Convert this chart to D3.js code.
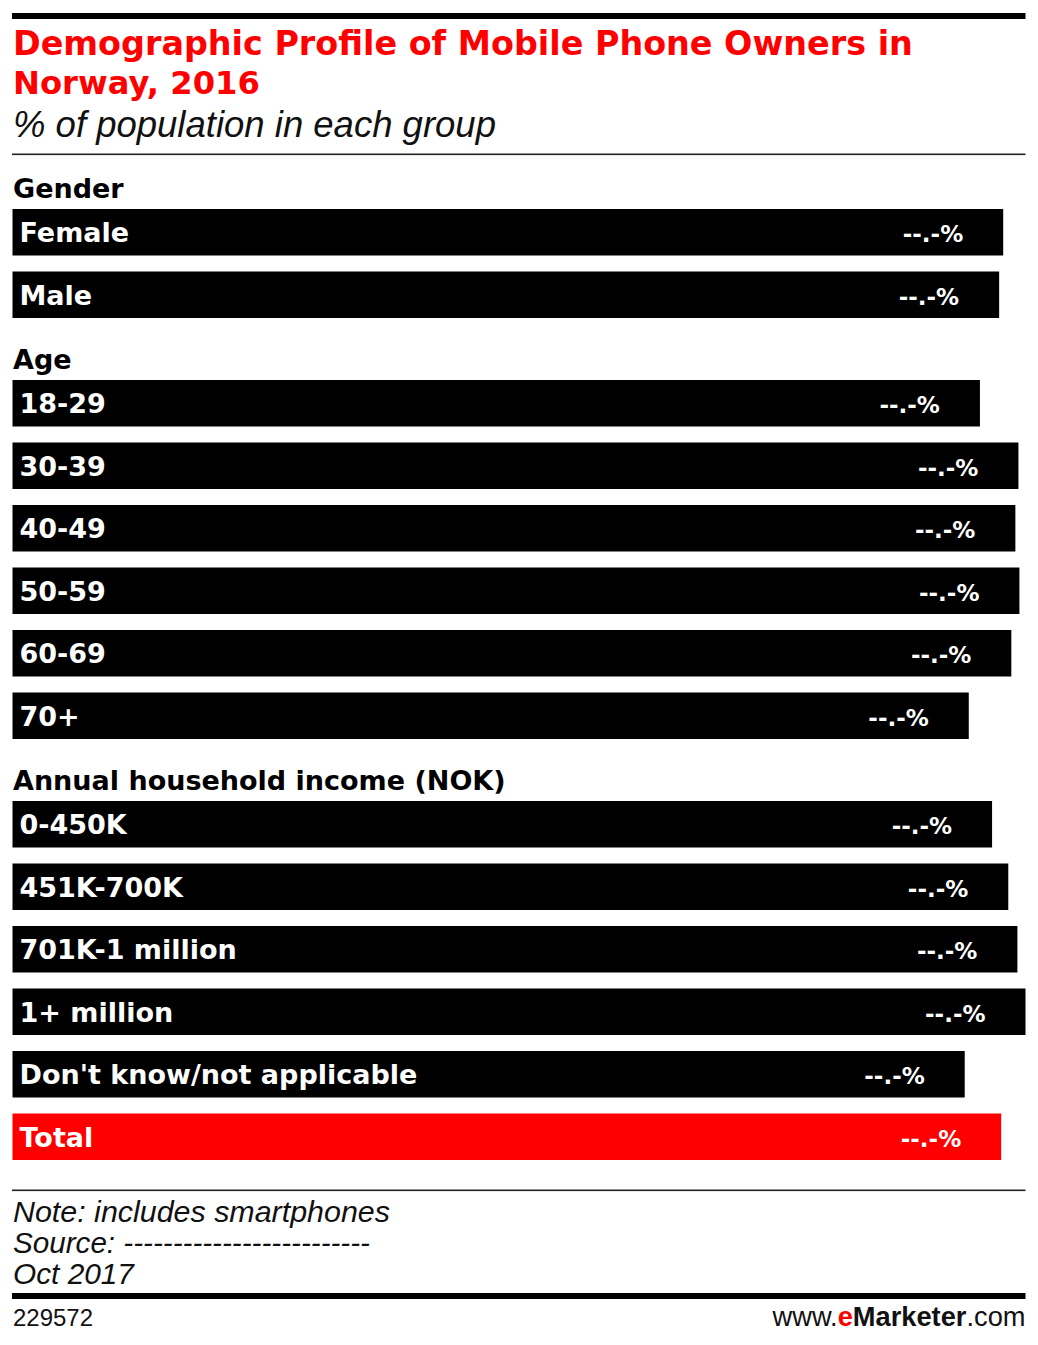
<!DOCTYPE html>
<html>
<head>
<meta charset="utf-8">
<script src="https://cdn.jsdelivr.net/npm/d3@7"></script>
<style>
  body { margin: 0; background: #fff; }
  svg { display: block; }
</style>
</head>
<body>
<div id="chart"></div>
<script>
var groups = ["Gender", "Age", "Annual household income (NOK)", null];
var categories = [
    ["Female", "Male"],
    ["18-29", "30-39", "40-49", "50-59", "60-69", "70+"],
    ["0-450K", "451K-700K", "701K-1 million", "1+ million", "Don't know/not applicable"],
    ["Total"]
];
var values = [
    [97.8, 97.4],
    [95.5, 99.3, 99.0, 99.4, 98.6, 94.4],
    [96.7, 98.3, 99.2, 100.0, 94.0],
    [97.6]
];
var valueLabel = "--.-%";

var title = ["Demographic Profile of Mobile Phone Owners in", "Norway, 2016"];
var subtitle = "% of population in each group";
var notes = ["Note: includes smartphones", "Source: -------------------------", "Oct 2017"];
var chartId = "229572";

// set the dimensions
var W = 1038, H = 1345,
    left = 12.5, right = 1025.5;

var svg = d3.select("#chart")
    .append("svg")
    .attr("width", W)
    .attr("height", H);

// shrink/grow font so the text spans a given width
function fit(sel, target) {
    var node = sel.node();
    var size = parseFloat(sel.attr("font-size"));
    var len = node.getComputedTextLength();
    if (len > 0) sel.attr("font-size", (size * target / len).toFixed(2));
    return sel;
}

var boldFont = "'DejaVu Sans', sans-serif";
var textFont = "'Liberation Sans', Arial, sans-serif";

// top rule
svg.append("rect").attr("x", 12).attr("y", 13).attr("width", right - 12).attr("height", 6).attr("fill", "#000");

// title
fit(svg.append("text").attr("x", 13).attr("y", 55).attr("font-family", boldFont).attr("font-weight", "bold")
    .attr("font-size", 32).attr("fill", "#f00").text(title[0]), 900);
fit(svg.append("text").attr("x", 13).attr("y", 94).attr("font-family", boldFont).attr("font-weight", "bold")
    .attr("font-size", 32).attr("fill", "#f00").text(title[1]), 247);
fit(svg.append("text").attr("x", 13).attr("y", 137).attr("font-family", textFont).attr("font-style", "italic")
    .attr("font-size", 31).attr("fill", "#111").text(subtitle), 483);

svg.append("rect").attr("x", 12).attr("y", 153.5).attr("width", right - 12).attr("height", 1.6).attr("fill", "#222");

// build rows
var headerH = 46, pitch = 62.5, barH = 46.5;
var rows = [];
var yPos = 163;
groups.forEach(function (g, gi) {
    if (g) {
        rows.push({ type: "header", label: g, y: yPos });
        yPos += headerH;
    }
    categories[gi].forEach(function (c, ci) {
        rows.push({ type: "bar", label: c, value: values[gi][ci], y: yPos, total: g === null });
        yPos += pitch;
    });
});

var x = d3.scaleLinear()
    .domain([0, 100])
    .range([left, right]);

var headers = rows.filter(function (d) { return d.type === "header"; });
var bars = rows.filter(function (d) { return d.type === "bar"; });

svg.append("g")
    .selectAll("text")
    .data(headers)
    .enter()
    .append("text")
    .attr("x", 13)
    .attr("y", function (d) { return d.y + headerH - 11; })
    .attr("font-family", boldFont)
    .attr("font-weight", "bold")
    .attr("font-size", 27)
    .attr("fill", "#000")
    .text(function (d) { return d.label; });

var bar = svg.append("g")
    .selectAll("g")
    .data(bars)
    .enter()
    .append("g");

bar.append("rect")
    .attr("x", x(0))
    .attr("y", function (d) { return d.y; })
    .attr("width", function (d) { return x(d.value) - x(0); })
    .attr("height", barH)
    .attr("fill", function (d) { return d.total ? "#f00" : "#000"; });

bar.append("text")
    .attr("x", x(0) + 7)
    .attr("y", function (d) { return d.y + 33; })
    .attr("font-family", boldFont)
    .attr("font-weight", "bold")
    .attr("font-size", 27)
    .attr("fill", "#fff")
    .text(function (d) { return d.label; });

bar.append("text")
    .attr("x", function (d) { return x(d.value) - 40; })
    .attr("y", function (d) { return d.y + 33; })
    .attr("text-anchor", "end")
    .attr("font-family", boldFont)
    .attr("font-weight", "bold")
    .attr("font-size", 23)
    .attr("fill", "#fff")
    .text(valueLabel);

// notes
svg.append("rect").attr("x", 12).attr("y", 1189.5).attr("width", right - 12).attr("height", 1.6).attr("fill", "#222");

var noteW = [377, 357, 121];
notes.forEach(function (n, i) {
    fit(svg.append("text").attr("x", 13).attr("y", 1222 + i * 31)
        .attr("font-family", textFont).attr("font-style", "italic")
        .attr("font-size", 28).attr("fill", "#111").text(n), noteW[i]);
});

svg.append("rect").attr("x", 12).attr("y", 1293).attr("width", right - 12).attr("height", 6).attr("fill", "#000");

fit(svg.append("text").attr("x", 13).attr("y", 1326).attr("font-family", textFont)
    .attr("font-size", 22).attr("fill", "#111").text(chartId), 80);

var brand = svg.append("text").attr("x", right).attr("y", 1326).attr("text-anchor", "end")
    .attr("font-family", textFont).attr("font-size", 24).attr("fill", "#111");
brand.append("tspan").text("www.");
brand.append("tspan").attr("fill", "#f00").attr("font-weight", "bold").text("e");
brand.append("tspan").attr("font-weight", "bold").text("Marketer");
brand.append("tspan").text(".com");
fit(brand, 253);
</script>
</body>
</html>
